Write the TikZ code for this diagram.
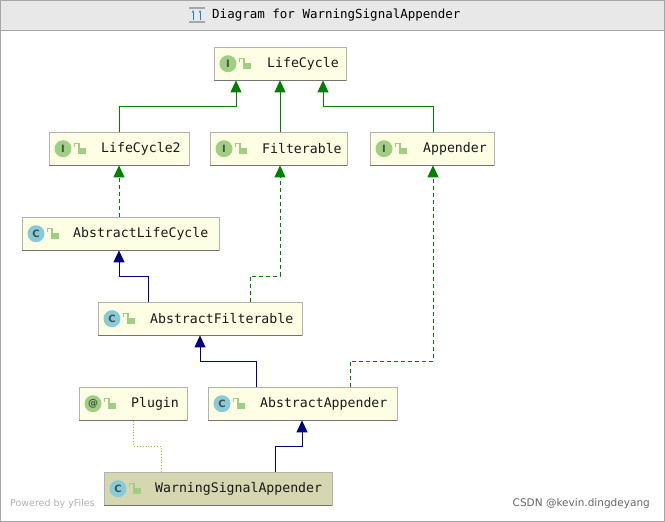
\documentclass[tikz,border=0pt]{standalone}
\usepackage{fontspec}
\setmonofont{DejaVu Sans Mono}
\setsansfont{DejaVu Sans}
\usetikzlibrary{arrows.meta}
\definecolor{boxfill}{HTML}{FEFEE4}
\definecolor{leaf}{HTML}{D6D6B0}
\definecolor{icI}{HTML}{9ECF82}
\definecolor{icC}{HTML}{86CBD8}
\definecolor{gr}{HTML}{008000}
\definecolor{nv}{HTML}{000080}
\definecolor{olv}{HTML}{B8B830}
\tikzset{
  box/.style={draw=black!30,fill=boxfill,minimum height=33pt,inner sep=0pt,anchor=north west},
  impl/.style={draw=gr,-{Triangle[width=11pt,length=12pt]},line width=0.9pt},
  implD/.style={impl,dash pattern=on 4pt off 3pt},
  ext/.style={draw=nv,-{Triangle[width=11pt,length=12pt]},line width=0.9pt},
  dep/.style={draw=olv,line width=0.9pt,dotted},
  lbl/.style={font=\ttfamily\fontsize{13.2}{15}\selectfont,text=black!90,anchor=west,inner sep=0pt},
}
\newcommand{\cls}[7][boxfill]{%
  \node[box,fill=#1,minimum width=#5pt] (#2) at (#3,#4) {};
  \draw[black!55,line width=1.2pt] (#2.south west)--(#2.south east);
  \fill[#7] ([xshift=14pt]#2.west) circle (8.5pt);
  \node[font=\sffamily\bfseries\fontsize{10}{10}\selectfont,text=black!70] at ([xshift=14pt]#2.west) {#6};
  \fill[icI] ([xshift=29pt,yshift=-5pt]#2.west) rectangle ([xshift=37pt,yshift=1pt]#2.west);
  \draw[icI,line width=1.3pt] ([xshift=30pt,yshift=1pt]#2.west) -- ([xshift=30pt,yshift=5pt]#2.west) -- ([xshift=25.5pt,yshift=5pt]#2.west) -- ([xshift=25.5pt,yshift=2pt]#2.west);
}
\begin{document}
\begin{tikzpicture}[x=1pt,y=-1pt]
\useasboundingbox (0,0) rectangle (665,522);
\fill[white] (0,0) rectangle (665,522);
\draw[black!35,fill=black!9] (0.5,0.5) rectangle (664.5,30);
\draw[black!35] (0.5,0.5) rectangle (664.5,521.5);
\node[font=\ttfamily\fontsize{12.5}{14}\selectfont,anchor=west,inner sep=0pt] (title) at (212,15) {Diagram for WarningSignalAppender};
\fill[black!35] (189,7) rectangle (205,9);\fill[black!35] (189,21) rectangle (205,23);
\draw[cyan!70!blue,line width=1pt,-{Stealth[length=3pt]}] (193,20)--(193,10);
\draw[cyan!70!blue,line width=1pt,-{Stealth[length=3pt]}] (200,20)--(200,10);

\cls{lc}{214}{47}{132}{I}{icI}
\node[lbl] at ([xshift=53pt]lc.west) {LifeCycle};
\cls{lc2}{49}{132}{140}{I}{icI}
\node[lbl] at ([xshift=52pt]lc2.west) {LifeCycle2};
\cls{flt}{210}{132}{137}{I}{icI}
\node[lbl] at ([xshift=52pt]flt.west) {Filterable};
\cls{app}{370}{132}{124}{I}{icI}
\node[lbl] at ([xshift=53pt]app.west) {Appender};
\cls{alc}{22}{217}{197}{C}{icC}
\node[lbl] at ([xshift=51pt]alc.west) {AbstractLifeCycle};
\cls{afl}{98}{302}{204}{C}{icC}
\node[lbl] at ([xshift=52pt]afl.west) {AbstractFilterable};
\cls{plg}{79}{387}{108}{@}{icI}
\node[lbl] at ([xshift=52pt]plg.west) {Plugin};
\cls{aap}{208}{387}{189}{C}{icC}
\node[lbl] at ([xshift=52pt]aap.west) {AbstractAppender};
\cls[leaf]{wsa}{104}{472}{228}{C}{icC}
\node[lbl] at ([xshift=51pt]wsa.west) {WarningSignalAppender};

\draw[impl] (lc2.north -| 119,0) |- (236,106) -- (lc.south -| 236,0);
\draw[impl] (flt.north -| 280,0) -- (lc.south -| 280,0);
\draw[impl] (app.north -| 433,0) |- (323,106) -- (lc.south -| 323,0);
\draw[implD] (alc.north -| 119,0) -- (lc2.south -| 119,0);
\draw[ext] (afl.north -| 148,0) |- (119,276) -- (alc.south -| 119,0);
\draw[implD] (afl.north -| 250,0) |- (280,276) -- (flt.south -| 280,0);
\draw[ext] (aap.north -| 256,0) |- (200,361) -- (afl.south -| 200,0);
\draw[implD] (aap.north -| 350,0) |- (433,361) -- (app.south -| 433,0);
\draw[ext] (wsa.north -| 275,0) |- (302,446) -- (aap.south -| 302,0);
\draw[dep] (wsa.north -| 161,0) |- (133,446) -- (plg.south -| 133,0);

\node[font=\sffamily\fontsize{9.5}{11}\selectfont,text=black!30,anchor=west,inner sep=0pt] (pw) at (10,504) {Powered by yFiles};
\node[font=\sffamily\fontsize{10.5}{12}\selectfont,text=black!60,anchor=east,inner sep=0pt] (csdn) at (650,504) {CSDN @kevin.dingdeyang};
\end{tikzpicture}
\end{document}
